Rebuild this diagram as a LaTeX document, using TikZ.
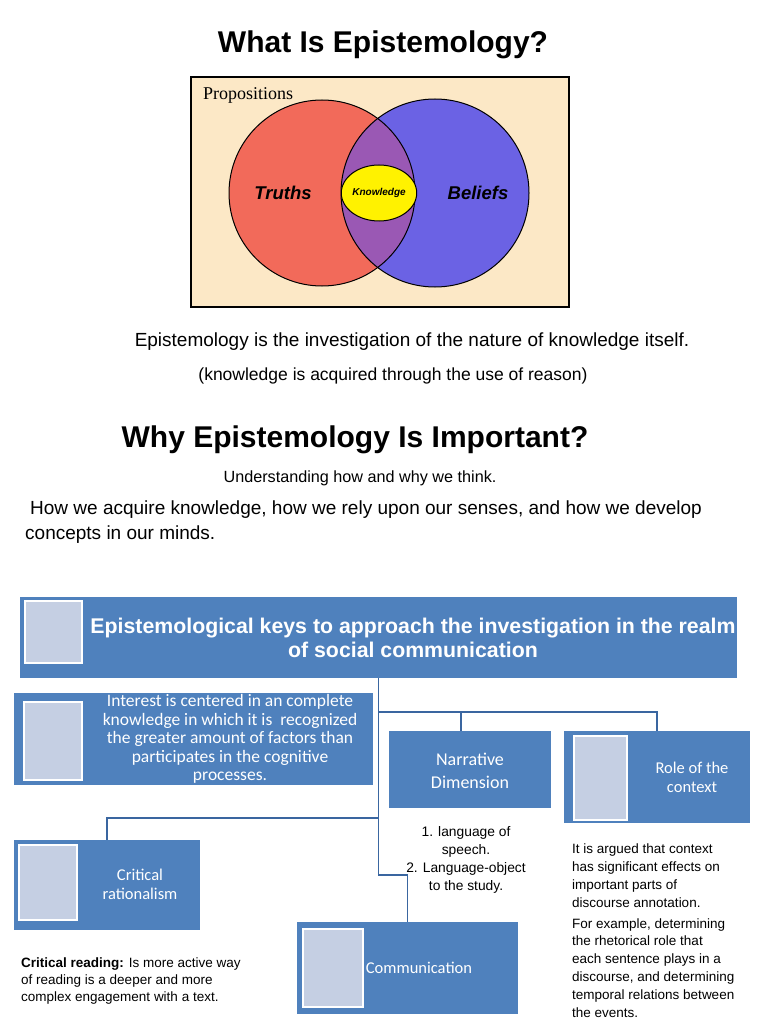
\documentclass[tikz,border=0pt]{standalone}
\usepackage{fontspec}
\setmainfont{Liberation Sans}
\newfontfamily\serifrm{Liberation Serif}
\newfontfamily\narrow{Carlito}
\usetikzlibrary{positioning,shapes.geometric}
\definecolor{boxblue}{HTML}{4F81BD}
\definecolor{sqfill}{HTML}{C5CFE3}
\definecolor{peach}{HTML}{FCE8C6}
\definecolor{redc}{HTML}{F26A5A}
\definecolor{bluec}{HTML}{6B62E4}
\definecolor{purp}{HTML}{9A58B4}
\definecolor{linec}{HTML}{3A66A0}
\tikzset{
  box/.style={fill=boxblue, draw=none, inner sep=0pt},
  sq/.style={fill=sqfill, draw=white, line width=2pt, inner sep=0pt},
  wtxt/.style={text=white, align=center, inner sep=0pt},
  conn/.style={draw=linec, line width=1.5pt},
  ptxt/.style={align=left, anchor=west, inner sep=0pt},
}
\newcommand{\fs}[2]{\fontsize{#1}{#2}\selectfont}
\begin{document}
\begin{tikzpicture}[x=1pt,y=-1pt]
\useasboundingbox (0,0) rectangle (768,1024);
% Title
\node[inner sep=0pt, font=\fs{30}{30}\bfseries] (t1) at (383,45) {What Is Epistemology?};
% Venn
\node[draw=black, line width=2pt, fill=peach, minimum width=378, minimum height=230, inner sep=0pt] (venn) at (380,192) {};
\node[ptxt, font=\serifrm\fs{18}{18}] (prop) at (203,95) {Propositions};
\fill[redc] (322,193) circle (93);
\fill[bluec] (435,193) circle (94);
\begin{scope}
\clip (322,193) circle (93);
\fill[purp] (435,193) circle (94);
\end{scope}
\draw[black, line width=1pt] (322,193) circle (93);
\draw[black, line width=1pt] (435,193) circle (94);
\node[ellipse, draw=black, line width=1pt, fill=yellow, minimum width=72, minimum height=56, inner sep=0pt, font=\fs{10}{10}\bfseries\itshape] (know) at (379,193) {Knowledge};
\node[inner sep=0pt, font=\fs{18.5}{18.5}\bfseries\itshape] (truths) at (283,193) {Truths};
\node[inner sep=0pt, font=\fs{18.5}{18.5}\bfseries\itshape] (beliefs) at (478,193) {Beliefs};
% texts
\node[inner sep=0pt, font=\fs{19}{19}] (d1) at (412,342) {Epistemology is the investigation of the nature of knowledge itself.};
\node[inner sep=0pt, font=\fs{17.5}{17.5}] (d2) at (393,376) {(knowledge is acquired through the use of reason)};
\node[inner sep=0pt, font=\fs{30}{30}\bfseries] (t2) at (355,440) {Why Epistemology Is Important?};
\node[inner sep=0pt, font=\fs{16.2}{16}] (u1) at (360,478) {Understanding how and why we think.};
\node[ptxt, font=\fs{19}{19}] (h1) at (30,510) {How we acquire knowledge, how we rely upon our senses, and how we develop};
\node[ptxt, font=\fs{19}{19}] (h2) at (25,535) {concepts in our minds.};
% boxes
\node[box, minimum width=717, minimum height=81] (head) at (378.5,637.5) {};
\node[sq, minimum width=57, minimum height=62] (sqh) at (53.5,632) {};
\node[wtxt, font=\fs{21.3}{24}\bfseries] (headt) at (413,637.5) {Epistemological keys to approach the investigation in the realm\\ of social communication};

\node[box, minimum width=359, minimum height=92] (int) at (193.5,739) {};
\node[sq, minimum width=58, minimum height=78] (sqi) at (53,741) {};
\node[wtxt, font=\narrow\fs{17.5}{18.5}] (intt) at (230,739) {Interest is centered in an complete\\ knowledge in which it is\ \ recognized\\ the greater amount of factors than\\ participates in the cognitive\\ processes.};

\node[box, minimum width=162, minimum height=77] (narr) at (470,769.5) {};
\node[wtxt, font=\narrow\fs{18}{23}] (narrt) at (470,771) {Narrative\\ Dimension};

\node[box, minimum width=186, minimum height=92] (role) at (657,777) {};
\node[sq, minimum width=53, minimum height=84] (sqr) at (600.5,778) {};
\node[wtxt, font=\narrow\fs{16.5}{19}] (rolet) at (692,777.5) {Role of the\\ context};

\node[box, minimum width=186, minimum height=90] (crit) at (107,885) {};
\node[sq, minimum width=58, minimum height=75] (sqc) at (48,882.5) {};
\node[wtxt, font=\narrow\fs{16.5}{19}] (critt) at (140,884) {Critical\\ rationalism};

\node[box, minimum width=221, minimum height=92] (comm) at (407.5,968) {};
\node[sq, minimum width=60, minimum height=78] (sqm) at (333,967.5) {};
\node[wtxt, font=\narrow\fs{16.5}{19}] (commt) at (419,968) {Communication};

% connectors
\coordinate (j1) at (378.5,712);
\coordinate (j2) at (378.5,818);
\coordinate (j3) at (378.5,875);
\draw[conn] (head.south) -- (j3) -| (comm.north);
\draw[conn] (j1) -| (role.north);
\draw[conn] (j1) -| ([xshift=-9]narr.north);
\draw[conn] (j2) -| (crit.north);

% side texts
\node[align=center, inner sep=0pt, font=\fs{13.8}{18}] (list) at (466,860) {1. language of\\ speech.\\ 2. Language-object\\ to the study.};
\node[align=left, anchor=north west, inner sep=0pt, font=\fs{13.5}{17.8}] (rp) at (572,844) {It is argued that context\\ has significant effects on\\ important parts of\\ discourse annotation.\\[3pt] For example, determining\\ the rhetorical role that\\ each sentence plays in a\\ discourse, and determining\\ temporal relations between\\ the events.};
\node[align=left, anchor=north west, inner sep=0pt, font=\fs{13.5}{17}] (cr) at (21,958) {\textbf{Critical reading:} Is more active way\\ of reading is a deeper and more\\ complex engagement with a text.};
\end{tikzpicture}
\end{document}
